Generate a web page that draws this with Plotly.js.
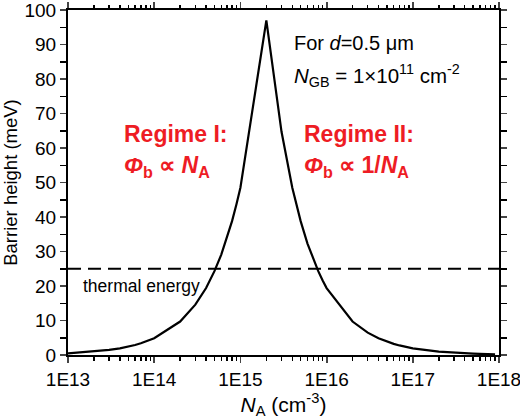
<!DOCTYPE html>
<html>
<head>
<meta charset="utf-8">
<script src="https://cdn.plot.ly/plotly-3.0.1.min.js"></script>
<style>
  html, body { margin: 0; padding: 0; background: #fff; }
  #chart { width: 520px; height: 419px; }
</style>
</head>
<body>
<div id="chart"></div>
<script>
'use strict';
/* Acceptor density (cm^-3) */
var na = [
  1e13, 2e13, 3e13, 4e13, 5e13, 6e13, 7e13, 8e13, 9e13,
  1e14, 2e14, 3e14, 4e14, 5e14, 6e14, 7e14, 8e14, 9e14,
  1e15, 2e15, 3e15, 4e15, 5e15, 6e15, 7e15, 8e15, 9e15,
  1e16, 2e16, 3e16, 4e16, 5e16, 6e16, 7e16, 8e16, 9e16,
  1e17, 2e17, 3e17, 4e17, 5e17, 6e17, 7e17, 8e17, 9e17
];
/* Barrier height (meV) */
var barrier = [
  0.49, 0.97, 1.46, 1.94, 2.43, 2.91, 3.40, 3.88, 4.37,
  4.85, 9.7, 14.6, 19.4, 24.3, 29.1, 34.0, 38.8, 43.7,
  48.5, 97.0, 64.7, 48.5, 38.8, 32.3, 27.7, 24.3, 21.6,
  19.4, 9.7, 6.47, 4.85, 3.88, 3.23, 2.77, 2.43, 2.16,
  1.94, 0.97, 0.65, 0.49, 0.39, 0.32, 0.28, 0.24, 0.22
];

/* thermal energy line */
var thermal_x = [1e13, 1e18];
var thermal_y = [25, 25];

/* x tick labels */
var tick_vals = [1e13, 1e14, 1e15, 1e16, 1e17, 1e18];
var tick_text = ['1E13', '1E14', '1E15', '1E16', '1E17', '1E18'];
var minor_vals = [
  2e13, 3e13, 4e13, 5e13, 6e13, 7e13, 8e13, 9e13,
  2e14, 3e14, 4e14, 5e14, 6e14, 7e14, 8e14, 9e14,
  2e15, 3e15, 4e15, 5e15, 6e15, 7e15, 8e15, 9e15,
  2e16, 3e16, 4e16, 5e16, 6e16, 7e16, 8e16, 9e16,
  2e17, 3e17, 4e17, 5e17, 6e17, 7e17, 8e17, 9e17
];

var red = '#ee1c24';
var font = 'Liberation Sans, Arial, sans-serif';

var data = [
{
  x: na,
  y: barrier,
  mode: 'lines',
  line: { color: '#000', width: 2.2 },
  hoverinfo: 'x+y'
},
{
  x: thermal_x,
  y: thermal_y,
  mode: 'lines',
  line: { color: '#000', width: 2, dash: '13px,7px' },
  hoverinfo: 'skip'
},
{
  /* empty trace to carry the minor-tick x axis */
  x: thermal_x,
  y: thermal_y,
  xaxis: 'x2',
  mode: 'lines',
  line: { width: 0 },
  hoverinfo: 'skip'
}];

var layout = {
  width: 520,
  height: 419,
  margin: { l: 68, r: 21, t: 10, b: 64 },
  showlegend: false,
  paper_bgcolor: '#fff',
  plot_bgcolor: '#fff',
  font: { family: font, color: '#000' },
  xaxis: {
    type: 'log',
    range: [13, 18],
    tickmode: 'array',
    tickvals: tick_vals,
    ticktext: tick_text,
    ticks: 'outside',
    ticklen: 6,
    tickwidth: 1.8,
    ticklabeloverflow: 'allow',
    showline: true,
    linewidth: 2,
    linecolor: '#000',
    mirror: 'allticks',
    showgrid: false,
    zeroline: false,
    tickfont: { size: 19 },
    title: { text: '<i>N</i><sub>A</sub> (cm<sup>-3</sup>)', font: { size: 21 }, standoff: 12 }
  },
  xaxis2: {
    type: 'log',
    range: [13, 18],
    overlaying: 'x',
    side: 'bottom',
    tickmode: 'array',
    tickvals: minor_vals,
    showticklabels: false,
    ticks: 'outside',
    ticklen: 3.5,
    tickwidth: 1.5,
    tickcolor: '#000',
    showline: true,
    linewidth: 2,
    linecolor: '#000',
    mirror: 'allticks',
    showgrid: false,
    zeroline: false
  },
  yaxis: {
    range: [0, 100],
    dtick: 10,
    ticks: 'outside',
    ticklen: 6,
    tickwidth: 1.8,
    ticklabeloverflow: 'allow',
    showline: true,
    linewidth: 2,
    linecolor: '#000',
    mirror: 'allticks',
    showgrid: false,
    zeroline: false,
    tickfont: { size: 19 },
    minor: { ticks: 'outside', ticklen: 3.5, tickwidth: 1.5, tickcolor: '#000', dtick: 5, showgrid: false },
    title: { text: 'Barrier height (meV)', font: { size: 18.5 }, standoff: 2 }
  },
  annotations: [
    { text: 'For <i>d</i>=0.5 μm', x: 0.52, y: 0.905, xref: 'paper', yref: 'paper',
      xanchor: 'left', yanchor: 'middle', showarrow: false, font: { size: 20 } },
    { text: '<i>N</i><sub>GB</sub> = 1×10<sup>11</sup> cm<sup>-2</sup>', x: 0.52, y: 0.81, xref: 'paper', yref: 'paper',
      xanchor: 'left', yanchor: 'middle', showarrow: false, font: { size: 20.5 } },
    { text: '<b>Regime I:</b>', x: 0.125, y: 0.64, xref: 'paper', yref: 'paper',
      xanchor: 'left', yanchor: 'middle', showarrow: false, font: { size: 23, color: red } },
    { text: '<b><i>Φ</i><sub>b</sub> ∝ <i>N</i><sub>A</sub></b>', x: 0.125, y: 0.545, xref: 'paper', yref: 'paper',
      xanchor: 'left', yanchor: 'middle', showarrow: false, font: { size: 23, color: red } },
    { text: '<b>Regime II:</b>', x: 0.543, y: 0.64, xref: 'paper', yref: 'paper',
      xanchor: 'left', yanchor: 'middle', showarrow: false, font: { size: 23, color: red } },
    { text: '<b><i>Φ</i><sub>b</sub> ∝ 1/<i>N</i><sub>A</sub></b>', x: 0.543, y: 0.545, xref: 'paper', yref: 'paper',
      xanchor: 'left', yanchor: 'middle', showarrow: false, font: { size: 23, color: red } },
    { text: 'thermal energy', x: 0.03, y: 0.2, xref: 'paper', yref: 'paper',
      xanchor: 'left', yanchor: 'middle', showarrow: false, font: { size: 17.5 } }
  ]
};

Plotly.newPlot('chart', data, layout, { displayModeBar: false, staticPlot: true });
</script>
</body>
</html>
